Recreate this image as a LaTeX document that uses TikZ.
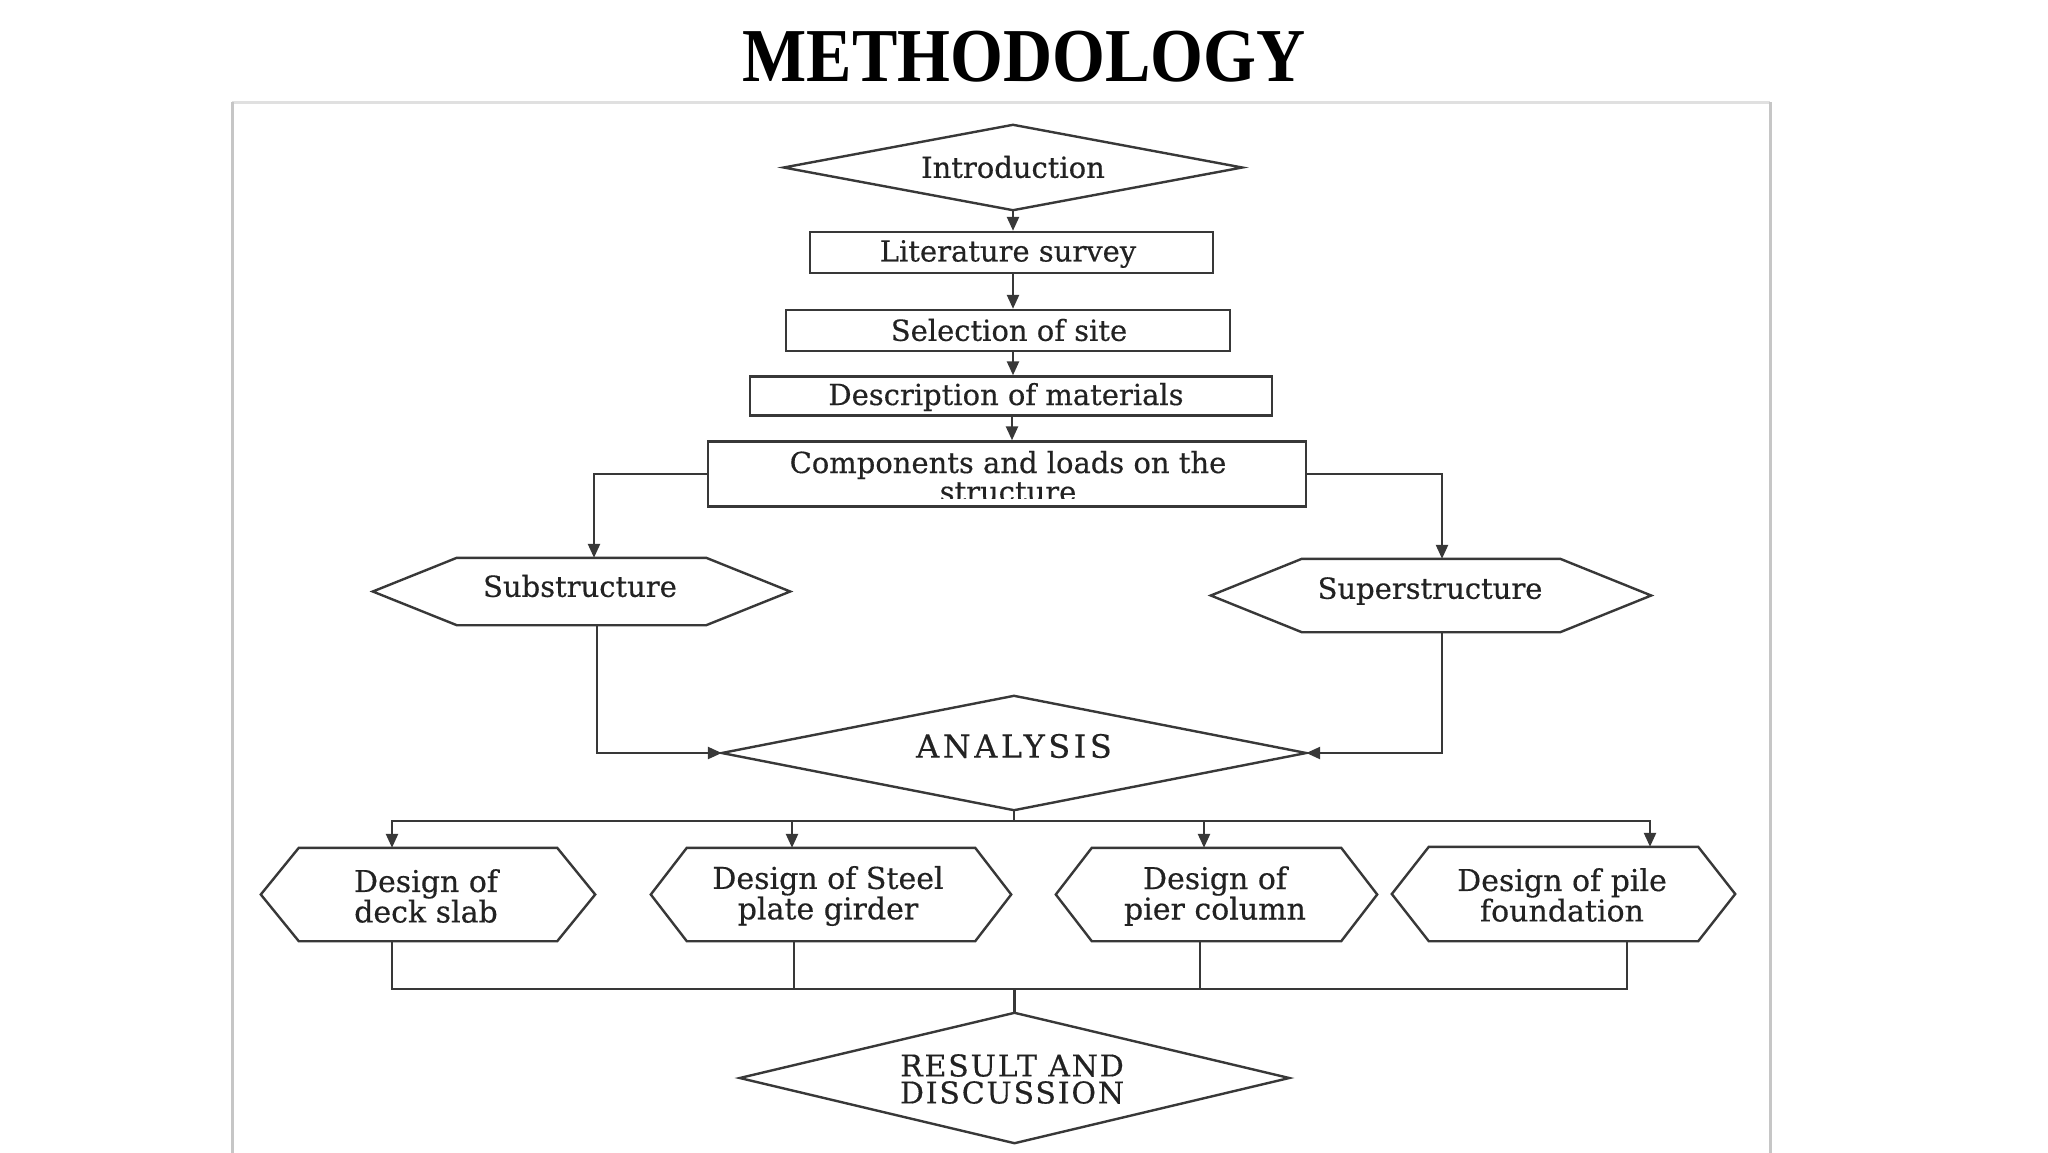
\documentclass[tikz,border=0pt]{standalone}
\usepackage{fontspec}
\usepackage{graphicx}
\setmainfont{DejaVu Serif}[FakeBold=0.4]
\newfontfamily\titlefont{Liberation Serif}
\usetikzlibrary{arrows.meta}
\definecolor{ln}{HTML}{383838}
\definecolor{tx}{HTML}{222222}
\definecolor{frm}{HTML}{C6C6C6}
\definecolor{frmtop}{HTML}{E0E0E0}
\newcommand\hexdraw[2]{\draw[outline] (#1.west) -- ([xshift=#2]#1.north west) -- ([xshift=-#2]#1.north east) -- (#1.east) -- ([xshift=-#2]#1.south east) -- ([xshift=#2]#1.south west) -- cycle;}
\newcommand\diadraw[1]{\draw[outline] (#1.west) -- (#1.north) -- (#1.east) -- (#1.south) -- cycle;}
\begin{document}
\begin{tikzpicture}[x=1pt,y=-1pt,
  outline/.style={draw=ln, line width=2.4pt, line join=miter},
  box/.style={draw=ln, line width=2.4pt, inner sep=0pt, fill=white},
  ghost/.style={inner sep=0pt, draw=none},
  txt/.style={text=tx, font=\fontsize{29}{29}\selectfont, inner sep=0pt, align=center},
  dtxt/.style={text=tx, font=\fontsize{30}{28}\selectfont, inner sep=0pt, align=center},
  conn/.style={draw=ln, line width=2.4pt, line cap=rect},
  arr/.style={draw=ln, line width=2.4pt, -{Triangle[length=14pt,width=12pt]}}]
\useasboundingbox (0,0) rectangle (2048,1152);
\fill[white] (0,0) rectangle (2048,1152);

% frame
\draw[frmtop, line width=3pt] (232,102) -- (1770,102);
\draw[frm, line width=3pt] (232,1160) -- (232,102);
\draw[frm, line width=3pt] (1770,102) -- (1770,1160);

% title
\node[inner sep=0pt, font=\titlefont\bfseries\fontsize{68}{68}\selectfont] (title) at (1024,57) {\scalebox{1}[1.12]{METHODOLOGY}};

% top chain
\node[ghost, minimum width=458pt, minimum height=85pt] (intro) at (1013,167.5) {};
\diadraw{intro}
\node[txt] (introT) at (1013,167) {Introduction};

\node[box, minimum width=403pt, minimum height=41pt] (lit) at (1011.5,252.5) {};
\node[txt] (litT) at (1008,254) {Literature survey};

\node[box, minimum width=444pt, minimum height=41pt] (sel) at (1008,330.5) {};
\node[txt] (selT) at (1009,330) {Selection of site};

\node[box, minimum width=522pt, minimum height=39pt] (desc) at (1011,396) {};
\node[txt] (descT) at (1006,397) {Description of materials};

\node[box, minimum width=598pt, minimum height=65pt] (comp) at (1007,474) {};
\begin{scope}
  \clip (712,445) rectangle (1302,498);
  \node[txt, anchor=base] (compA) at (1008,473) {Components and loads on the};
  \node[txt, anchor=base] (compB) at (1008,502) {structure};
\end{scope}

\draw[arr] (intro.south) -- (intro.south |- lit.north);
\draw[arr] (intro.south |- lit.south) -- (intro.south |- sel.north);
\draw[arr] (intro.south |- sel.south) -- (intro.south |- desc.north);
\draw[arr] ([xshift=-1pt]intro.south |- desc.south) -- ([xshift=-1pt]intro.south |- comp.north);

% sub / super
\node[ghost, minimum width=417pt, minimum height=67pt] (sub) at (581.5,591.5) {};
\hexdraw{sub}{84pt}
\node[txt] (subT) at (580,586) {Substructure};

\node[ghost, minimum width=440pt, minimum height=73pt] (sup) at (1431,595.5) {};
\hexdraw{sup}{91pt}
\node[txt] (supT) at (1430,591) {Superstructure};

\draw[arr] (comp.west) -| ([xshift=12.5pt]sub.north);
\draw[arr] (comp.east) -| ([xshift=11pt]sup.north);

% analysis
\node[ghost, minimum width=584pt, minimum height=114pt] (ana) at (1014,753) {};
\diadraw{ana}
\node[text=tx, inner sep=0pt, font=\fontsize{32}{32}\selectfont\addfontfeatures{LetterSpace=11}] (anaT) at (1014,746) {ANALYSIS};

\draw[arr] ([xshift=15.5pt]sub.south) |- (ana.west);
\draw[arr] ([xshift=11pt]sup.south) |- (ana.east);

% design row
\node[ghost, minimum width=334pt, minimum height=93pt] (deck) at (428,894.5) {};
\hexdraw{deck}{38pt}
\node[dtxt] (deckT) at (426,896) {Design of\\deck slab};

\node[ghost, minimum width=360pt, minimum height=93pt] (gird) at (831,894.5) {};
\hexdraw{gird}{36pt}
\node[dtxt] (girdT) at (828,896) {Design of Steel\\plate girder};

\node[ghost, minimum width=321pt, minimum height=93pt] (pier) at (1216.5,894.5) {};
\hexdraw{pier}{36pt}
\node[dtxt] (pierT) at (1215,896) {Design of\\pier column};

\node[ghost, minimum width=343pt, minimum height=94pt] (pile) at (1563.5,894) {};
\hexdraw{pile}{37pt}
\node[dtxt] (pileT) at (1562,895) {Design of pile\\foundation};

% upper bus
\coordinate (busA) at (1014,821);
\coordinate (busL) at (392,821);
\coordinate (bus2) at (792,821);
\coordinate (bus3) at (1204,821);
\coordinate (busR) at (1650,821);
\draw[conn] (ana.south) -- (busA);
\draw[conn] (busL) -- (busR);
\draw[arr] (busL) -- (busL |- deck.north);
\draw[arr] (bus2) -- (bus2 |- gird.north);
\draw[arr] (bus3) -- (bus3 |- pier.north);
\draw[arr] (busR) -- (busR |- pile.north);

% result
\node[ghost, minimum width=549pt, minimum height=130pt] (res) at (1014.5,1078) {};
\diadraw{res}
\node[text=tx, inner sep=0pt, align=center, font=\fontsize{30}{27}\selectfont\addfontfeatures{LetterSpace=6}] (resT) at (1012,1079) {RESULT AND\\DISCUSSION};

% lower bus
\coordinate (lb1) at (392,989);
\coordinate (lb2) at (794,989);
\coordinate (lb3) at (1200,989);
\coordinate (lb4) at (1627,989);
\draw[conn, line join=miter] (lb1 |- deck.south) -- (lb1) -- (lb4) -- (lb4 |- pile.south);
\draw[conn] (lb2 |- gird.south) -- (lb2);
\draw[conn] (lb3 |- pier.south) -- (lb3);
\draw[conn] (res.north |- lb1) -- (res.north);
\end{tikzpicture}
\end{document}
